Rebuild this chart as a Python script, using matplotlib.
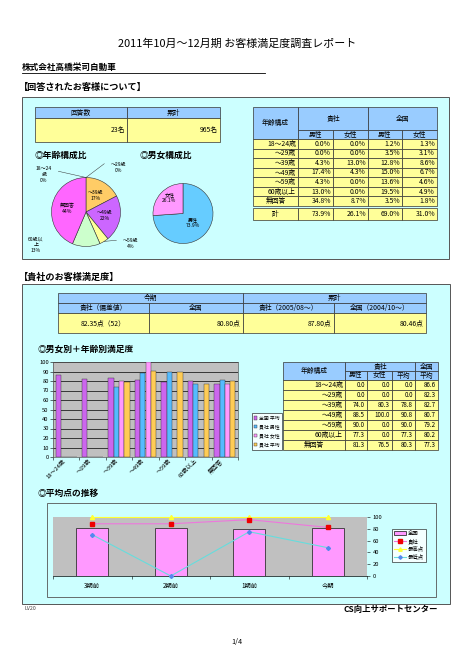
import numpy as np
import matplotlib
matplotlib.use('Agg')
import matplotlib.pyplot as plt
from matplotlib.patches import Rectangle, Patch
from matplotlib.lines import Line2D

plt.rcParams['font.family'] = ['Noto Sans CJK JP', 'DejaVu Sans']

# ---- データ ----
kaitou_su = '23名'
ruikei_su = '965名'

nenrei = ['18～24歳', '～29歳', '～39歳', '～49歳', '～59歳', '60歳以上', '無回答']
pie_names = ['18～24\n歳', '～29歳', '～39歳', '～49歳', '～59歳', '60歳以\n上', '無回答']
kisha_dansei = [0.0, 0.0, 4.3, 17.4, 4.3, 13.0, 34.8]
kisha_josei = [0.0, 0.0, 13.0, 4.3, 0.0, 0.0, 8.7]
zenkoku_dansei = [1.2, 3.5, 12.8, 15.0, 13.6, 19.5, 3.5]
zenkoku_josei = [1.3, 3.1, 8.6, 6.7, 4.6, 4.9, 1.8]
goukei = [73.9, 26.1, 69.0, 31.0]

seibetsu = ['男性', '女性']
seibetsu_pct = [73.9, 26.1]

manzoku_head1 = ['今期', '累計']
manzoku_head2 = ['貴社（偏差値）', '全国', '貴社（2005/08～）', '全国（2004/10～）']
manzoku_values = ['82.35点（52）', '80.80点', '87.80点', '80.46点']

sat_dansei = [0.0, 0.0, 74.0, 88.5, 90.0, 77.3, 81.3]
sat_josei = [0.0, 0.0, 80.3, 100.0, 0.0, 0.0, 76.5]
sat_heikin = [0.0, 0.0, 78.8, 90.8, 90.0, 77.3, 80.3]
sat_zenkoku = [86.6, 82.3, 82.7, 80.7, 79.2, 80.2, 77.3]

kikan = ['3期前', '2期前', '1期前', '今期']
suii_zenkoku = [81.5, 81.5, 80.5, 80.8]
suii_kisha = [88.5, 88.5, 95.5, 82.35]
suii_max = [100, 100, 100, 100]
suii_min = [70, 0, 75, 48]

# ---- 色 ----
CYAN = '#ccffff'
BLUE = '#99ccff'
YELLOW = '#ffff99'
GRAY = '#c0c0c0'
EDGE = '#333333'
TFS = 4.9  # 表の文字サイズ

W, H = 474, 668
fig = plt.figure(figsize=(W / 100, H / 100), dpi=100)
base = fig.add_axes([0, 0, 1, 1])
base.set_xlim(0, W)
base.set_ylim(H, 0)
base.axis('off')


def px_axes(x0, y0, x1, y1):
    return fig.add_axes([x0 / W, 1 - y1 / H, (x1 - x0) / W, (y1 - y0) / H])


def box(x0, y0, x1, y1, fc, ec=EDGE, lw=0.5):
    base.add_patch(Rectangle((x0, y0), x1 - x0, y1 - y0, facecolor=fc, edgecolor=ec, linewidth=lw))


def cell(x0, y0, x1, y1, s, fc, ha='center', fs=TFS, weight='normal'):
    box(x0, y0, x1, y1, fc)
    if ha == 'center':
        x = (x0 + x1) / 2
    elif ha == 'right':
        x = x1 - 2
    else:
        x = x0 + 2
    base.text(x, (y0 + y1) / 2, s, ha=ha, va='center', fontsize=fs, weight=weight)


def txt(x, y, s, fs=5, ha='left', weight='bold', color='black'):
    base.text(x, y, s, ha=ha, va='center', fontsize=fs, weight=weight, color=color)


# ---- 見出し ----
txt(237, 44, '2011年10月～12月期 お客様満足度調査レポート', fs=7.9, ha='center', weight='normal')
txt(22, 67, '株式会社高橋栄司自動車', fs=6.2)
base.plot([22, 265], [72.5, 72.5], color='black', lw=0.6)
txt(19, 87, '【回答されたお客様について】', fs=6.6)

# ---- パネル1 ----
box(22, 97, 449, 259, CYAN, ec='#555555', lw=0.7)

cell(35, 107, 127, 118, '回答数', BLUE)
cell(127, 107, 220, 118, '累計', BLUE)
cell(35, 118, 127, 142, kaitou_su, YELLOW, ha='right')
cell(127, 118, 220, 142, ruikei_su, YELLOW, ha='right')

# 年齢構成表
cx = [253, 298, 333, 368, 402, 437]
cell(cx[0], 107, cx[1], 139, '年齢構成', BLUE)
cell(cx[1], 107, cx[3], 130, '貴社', BLUE)
cell(cx[3], 107, cx[5], 130, '全国', BLUE)
for i, s in enumerate(seibetsu + seibetsu):
    cell(cx[i + 1], 130, cx[i + 2], 139, s, BLUE)
rh = (206 - 139) / len(nenrei)
cols = [kisha_dansei, kisha_josei, zenkoku_dansei, zenkoku_josei]
for r, name in enumerate(nenrei):
    y0 = 139 + r * rh
    cell(cx[0], y0, cx[1], y0 + rh, name, YELLOW, ha='center' if name == '無回答' else 'right')
    for c, col in enumerate(cols):
        cell(cx[c + 1], y0, cx[c + 2], y0 + rh, f'{col[r]:.1f}%', YELLOW, ha='right')
cell(cx[0], 208, cx[1], 220, '計', YELLOW)
for c, v in enumerate(goukei):
    cell(cx[c + 1], 208, cx[c + 2], 220, f'{v:.1f}%', YELLOW, ha='right')

txt(35, 155, '◎年齢構成比', fs=6.3)
txt(140, 155, '◎男女構成比', fs=6.3)

# 年齢構成円グラフ
age_pct = [m + f for m, f in zip(kisha_dansei, kisha_josei)]
age_colors = ['#ffcc66', '#ffcc66', '#ffcc66', '#cc66ff', '#ffff99', '#ccffcc', '#ff66ff']
axp = px_axes(51.5, 177.5, 120.5, 246.5)
wedges, _ = axp.pie(age_pct, colors=age_colors, startangle=90, counterclock=False,
                    wedgeprops=dict(edgecolor=EDGE, linewidth=0.4))
axp.set_xlim(-1, 1)
axp.set_ylim(-1, 1)
axp.set_aspect('equal')
outside = {0: (-1.22, 1.08), 1: (0.95, 1.3), 4: (1.3, -0.92), 5: (-1.45, -0.95)}
tot = sum(age_pct)
for i, w in enumerate(wedges):
    th = np.deg2rad((w.theta1 + w.theta2) / 2)
    lab = f'{pie_names[i]}\n{age_pct[i] / tot * 100:.0f}%'
    if i in outside:
        tx, ty = outside[i]
        axp.text(tx, ty, lab, ha='center', va='center', fontsize=3.6, linespacing=1.2)
        if i != 5:
            ex, ey = np.cos(th), np.sin(th)
            sx = tx + (0.42 if tx < 0 else -0.42)
            axp.plot([sx, ex], [ty + 0.1, ey], color=EDGE, lw=0.35, clip_on=False)
    else:
        axp.text(0.55 * np.cos(th), 0.55 * np.sin(th), lab, ha='center', va='center',
                 fontsize=3.6, linespacing=1.2)

# 男女構成円グラフ
axg = px_axes(153, 183.5, 213, 243.5)
gw, _ = axg.pie(seibetsu_pct, colors=['#66ccff', '#ff99ff'], startangle=90, counterclock=False,
                wedgeprops=dict(edgecolor=EDGE, linewidth=0.4))
axg.set_xlim(-1, 1)
axg.set_ylim(-1, 1)
axg.set_aspect('equal')
for i, w in enumerate(gw):
    th = np.deg2rad((w.theta1 + w.theta2) / 2)
    r = 0.45 if i == 0 else 0.62
    axg.text(r * np.cos(th), r * np.sin(th) + (0.1 if i == 1 else 0), f'{seibetsu[i]}\n{seibetsu_pct[i]:.1f}%',
             ha='center', va='center', fontsize=3.6, linespacing=1.2)

# ---- パネル2 ----
txt(19, 277, '【貴社のお客様満足度】', fs=6.6)
box(22, 284, 450, 604, CYAN, ec='#555555', lw=0.7)

mx = [58, 149, 243, 334, 426]
cell(mx[0], 293, mx[2], 303, manzoku_head1[0], BLUE)
cell(mx[2], 293, mx[4], 303, manzoku_head1[1], BLUE)
for i in range(4):
    cell(mx[i], 303, mx[i + 1], 313, manzoku_head2[i], BLUE)
    cell(mx[i], 313, mx[i + 1], 333, manzoku_values[i], YELLOW, ha='center' if i == 0 else 'right')

txt(38, 349, '◎男女別＋年齢別満足度', fs=6.3)

# 棒グラフ
axb = px_axes(53, 362, 238, 457)
axb.set_facecolor(GRAY)
x = np.arange(len(nenrei))
bw = 0.2
series = [(sat_zenkoku, '#cc66ee', '全国 平均'), (sat_dansei, '#55bbff', '貴社 男性'),
          (sat_josei, '#ff99ff', '貴社 女性'), (sat_heikin, '#ffcc55', '貴社 平均')]
for k, (vals, col, lab) in enumerate(series):
    axb.bar(x + (k - 1.5) * bw, vals, bw, color=col, edgecolor='#333333', linewidth=0.3,
            label=lab, zorder=3)
axb.set_xlim(-0.5, len(nenrei) - 0.5)
axb.set_ylim(0, 100)
axb.set_yticks(np.arange(0, 101, 10))
axb.yaxis.grid(True, color='black', lw=0.5, zorder=1)
axb.set_axisbelow(True)
axb.set_xticks(x)
axb.set_xticklabels(nenrei, rotation=45, ha='right', fontsize=4.2)
axb.set_xticks(np.arange(-0.5, len(nenrei)), minor=True)
axb.tick_params(axis='x', which='major', length=0, pad=1)
axb.tick_params(axis='x', which='minor', length=2, width=0.4)
axb.tick_params(axis='y', labelsize=4.2, length=2, width=0.4, pad=1)
for sp in axb.spines.values():
    sp.set_linewidth(0.5)
    sp.set_color('#555555')
leg = axb.legend(loc='center left', bbox_to_anchor=(1.06, 0.27), fontsize=3.5, frameon=True,
                 fancybox=False, edgecolor='black', handlelength=0.7, handleheight=0.7,
                 handletextpad=0.4, borderpad=0.5, labelspacing=0.8)
leg.get_frame().set_linewidth(0.5)

# 満足度表
sx = [283, 345, 367, 392, 415, 438]
cell(sx[0], 362, sx[1], 380, '年齢構成', BLUE)
cell(sx[1], 362, sx[4], 371, '貴社', BLUE)
cell(sx[4], 362, sx[5], 371, '全国', BLUE)
for i, s in enumerate(seibetsu + ['平均', '平均']):
    cell(sx[i + 1], 371, sx[i + 2], 380, s, BLUE)
srh = (450 - 380) / len(nenrei)
scols = [sat_dansei, sat_josei, sat_heikin, sat_zenkoku]
for r, name in enumerate(nenrei):
    y0 = 380 + r * srh
    cell(sx[0], y0, sx[1], y0 + srh, name, YELLOW, ha='center' if name == '無回答' else 'right')
    for c, col in enumerate(scols):
        cell(sx[c + 1], y0, sx[c + 2], y0 + srh, f'{col[r]:.1f}', YELLOW, ha='right', fs=4.5)

# 平均点の推移
txt(38, 493, '◎平均点の推移', fs=6.3)
box(47, 503, 436, 597, CYAN, ec='#555555', lw=0.6)
axl = px_axes(53, 517, 367, 576)
axl.set_facecolor(GRAY)
xl = np.arange(len(kikan))
axl.bar(xl, suii_zenkoku, 0.41, color='#ff99ff', edgecolor='#333333', linewidth=0.6, zorder=2)
axl.plot(xl, suii_kisha, color='#ee77dd', lw=0.8, marker='s', ms=3, mfc='#ee0000', mec='#ee0000',
         zorder=4, clip_on=False)
axl.plot(xl, suii_max, color='#ffff33', lw=0.8, marker='^', ms=3, mfc='#ffff33', mec='#ffff33',
         zorder=3, clip_on=False)
axl.plot(xl, suii_min, color='#66dddd', lw=0.8, marker='D', ms=2, mfc='#5588ee', mec='#5588ee',
         zorder=5, clip_on=False)
axl.set_xlim(-0.5, len(kikan) - 0.5)
axl.set_ylim(0, 100)
axl.yaxis.tick_right()
axl.set_yticks(np.arange(0, 101, 20))
axl.tick_params(axis='y', labelsize=4.2, length=2, width=0.4, pad=2)
axl.set_xticks(xl)
axl.set_xticklabels(kikan, fontsize=4.5)
axl.set_xticks(np.arange(-0.5, len(kikan)), minor=True)
axl.tick_params(axis='x', which='major', length=0, pad=4)
axl.tick_params(axis='x', which='minor', length=2, width=0.4)
for k, sp in axl.spines.items():
    sp.set_visible(k == 'bottom')
    sp.set_linewidth(0.5)
handles = [Patch(facecolor='#ff99ff', edgecolor='#333333', linewidth=0.6),
           Line2D([], [], color='#ee77dd', lw=0.8, marker='s', ms=2.5, mfc='#ee0000', mec='#ee0000'),
           Line2D([], [], color='#ffff33', lw=0.8, marker='^', ms=2.5, mfc='#ffff33', mec='#ffff33'),
           Line2D([], [], color='#66dddd', lw=0.8, marker='D', ms=1.8, mfc='#5588ee', mec='#5588ee')]
leg2 = axl.legend(handles, ['全国', '貴社', '最高点', '最低点'], loc='center left',
                  bbox_to_anchor=(1.07, 0.52), fontsize=3.9, frameon=True, fancybox=False,
                  edgecolor='black', handlelength=2.2, handleheight=0.6, handletextpad=0.3,
                  borderpad=0.4, labelspacing=0.4)
leg2.get_frame().set_linewidth(0.5)

# ---- フッター ----
txt(25, 609, 'LV20', fs=3.8, weight='normal', color='#444444')
txt(438, 609, 'CS向上サポートセンター', fs=6.0, ha='right')
txt(237, 642, '1/4', fs=5.2, ha='center', weight='normal')

fig.savefig('out.png', dpi=100, facecolor='white')
